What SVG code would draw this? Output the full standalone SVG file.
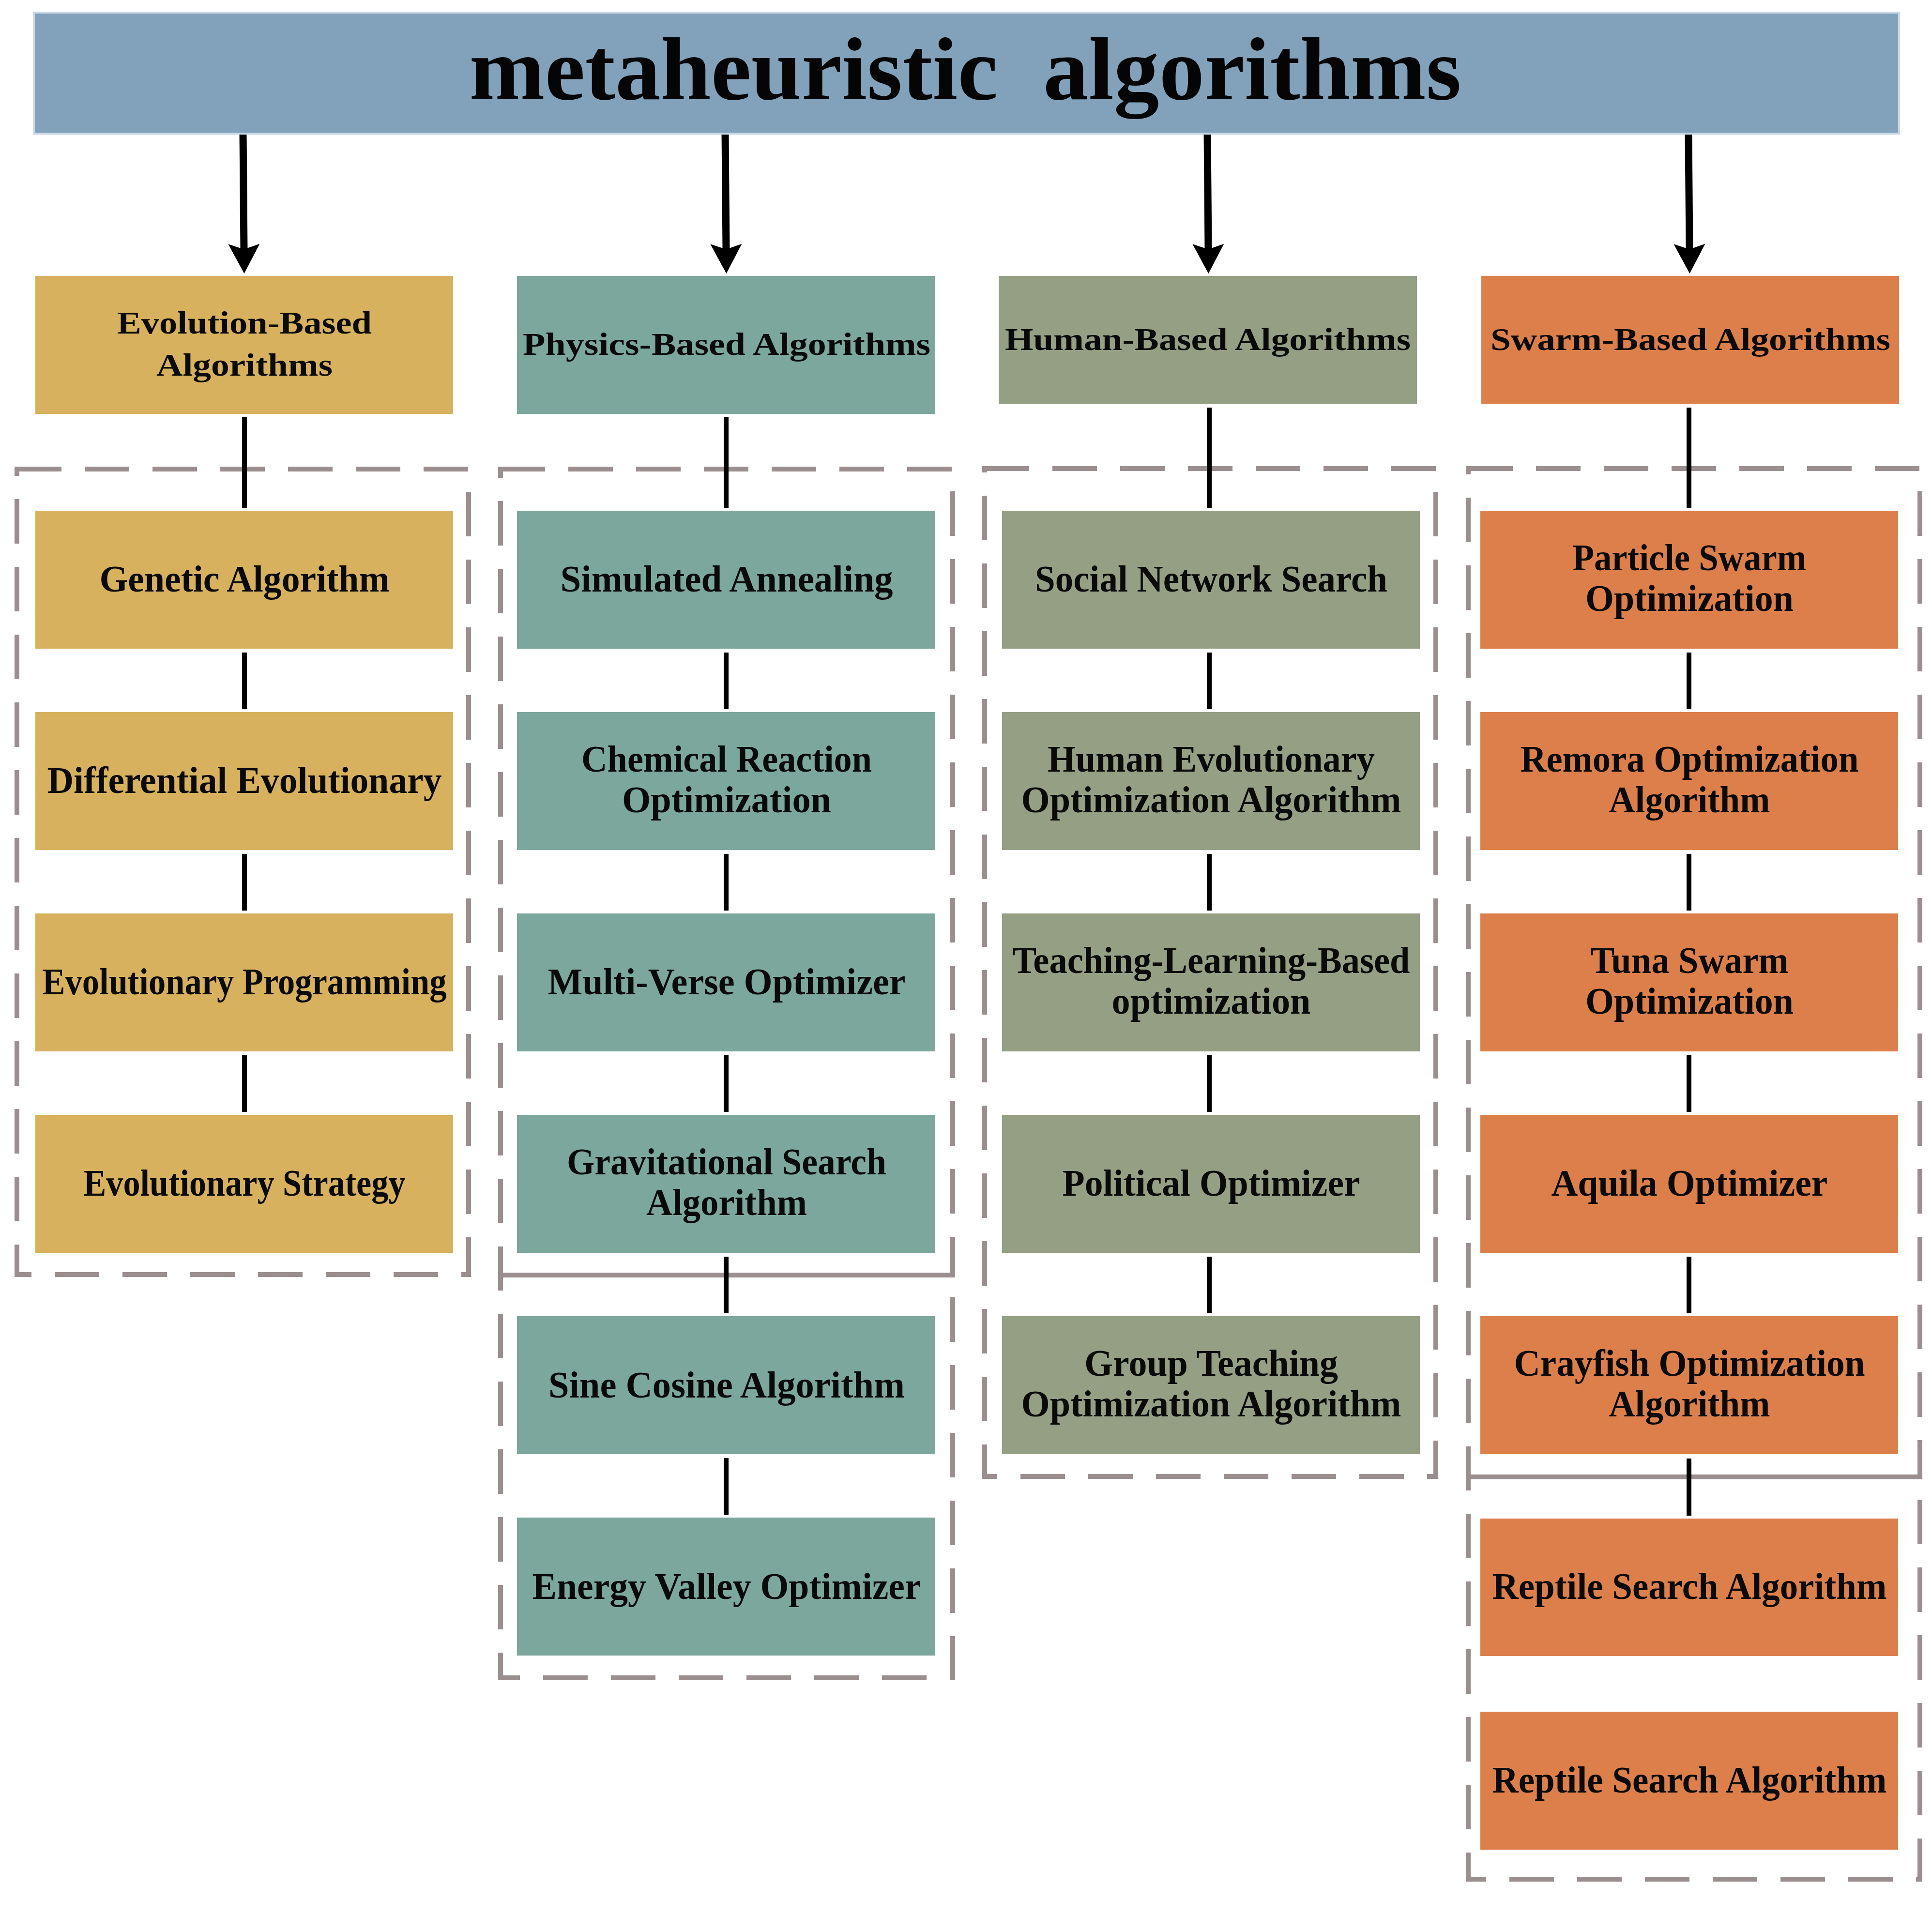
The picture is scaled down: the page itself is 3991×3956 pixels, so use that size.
<svg xmlns="http://www.w3.org/2000/svg" width="3991" height="3956" viewBox="0 0 3991 3956">
<style>
.evo{fill:#d7b15e}
.phy{fill:#7ba79c}
.hum{fill:#959f84}
.swa{fill:#dc7f4a}
.t{font-family:"Liberation Serif","Times New Roman",serif;font-weight:bold;font-size:78px;fill:#0a0a0a;text-anchor:middle}
.c{font-family:"Liberation Serif","Times New Roman",serif;font-weight:bold;font-size:66px;fill:#0a0a0a;text-anchor:middle}
.title{font-family:"Liberation Serif","Times New Roman",serif;font-weight:bold;font-size:185px;fill:#050505;text-anchor:middle;white-space:pre}
.dash{fill:none;stroke:#9a8e8e;stroke-width:10;stroke-dasharray:92 48}
.link{stroke:#000;stroke-width:10;fill:none}
.arrow{stroke:#000;stroke-width:15;fill:none;stroke-linecap:round;marker-end:url(#head)}
</style>
<defs>
<marker id="head" markerUnits="userSpaceOnUse" viewBox="0 -33 62 66" markerWidth="62" markerHeight="66" refX="11" refY="0" orient="auto">
<path d="M0,-32.5 L61,0 L0,32.5 L11,0 Z" fill="#000"/>
</marker>
</defs>
<rect width="3991" height="3956" fill="#fff"/>

<g id="containers">
<rect class="dash" x="35" y="969" width="933" height="1664"/>
<rect class="dash" x="1034" y="969" width="934" height="1665"/>
<rect class="dash" x="1034" y="2634" width="934" height="832"/>
<rect class="dash" x="2034" y="968" width="932" height="2082"/>
<rect class="dash" x="3033" y="968" width="933" height="2083"/>
<rect class="dash" x="3033" y="3051" width="933" height="831"/>
</g>

<g id="connectors">
<path class="arrow" d="M502,275 L504,515"/>
<path class="arrow" d="M1498,275 L1500,515"/>
<path class="arrow" d="M2494,275 L2496,515"/>
<path class="arrow" d="M3488,275 L3490,515"/>
<path class="link" d="M505,861V1049M505,1348V1465M505,1764V1881M505,2180V2297"/>
<path class="link" d="M1500,862V1049M1500,1348V1465M1500,1764V1881M1500,2180V2297M1500,2596V2713M1500,3012V3129"/>
<path class="link" d="M2498,842V1049M2498,1348V1465M2498,1764V1881M2498,2180V2297M2498,2596V2713"/>
<path class="link" d="M3489,842V1049M3489,1348V1465M3489,1764V1881M3489,2180V2297M3489,2596V2713M3489,3013V3131"/>
</g>

<g id="root">
<rect x="70" y="26" width="3853" height="250" fill="#82a1ba" stroke="#c9d8e8" stroke-width="4"/>
<text class="title" x="1994" y="205" textLength="2049" lengthAdjust="spacingAndGlyphs">metaheuristic  algorithms</text>
</g>

<g id="cat-evolution">
<rect class="evo" x="73" y="570" width="863" height="285"/>
<text class="c" x="505" y="689" textLength="526" lengthAdjust="spacingAndGlyphs">Evolution-Based</text>
<text class="c" x="505" y="776" textLength="364" lengthAdjust="spacingAndGlyphs">Algorithms</text>
</g>
<g id="node-ga">
<rect class="evo" x="73" y="1055" width="863" height="285"/>
<text class="t" x="505" y="1222" textLength="599" lengthAdjust="spacingAndGlyphs">Genetic Algorithm</text>
</g>
<g id="node-de">
<rect class="evo" x="73" y="1471" width="863" height="285"/>
<text class="t" x="505" y="1638" textLength="815" lengthAdjust="spacingAndGlyphs">Differential Evolutionary</text>
</g>
<g id="node-ep">
<rect class="evo" x="73" y="1887" width="863" height="285"/>
<text class="t" x="505" y="2054" textLength="835" lengthAdjust="spacingAndGlyphs">Evolutionary Programming</text>
</g>
<g id="node-es">
<rect class="evo" x="73" y="2303" width="863" height="285"/>
<text class="t" x="505" y="2470" textLength="665" lengthAdjust="spacingAndGlyphs">Evolutionary Strategy</text>
</g>

<g id="cat-physics">
<rect class="phy" x="1068" y="570" width="864" height="285"/>
<text class="c" x="1501" y="733" textLength="842" lengthAdjust="spacingAndGlyphs">Physics-Based Algorithms</text>
</g>
<g id="node-sa">
<rect class="phy" x="1068" y="1055" width="864" height="285"/>
<text class="t" x="1501" y="1222" textLength="687" lengthAdjust="spacingAndGlyphs">Simulated Annealing</text>
</g>
<g id="node-cro">
<rect class="phy" x="1068" y="1471" width="864" height="285"/>
<text class="t" x="1501" y="1594" textLength="600" lengthAdjust="spacingAndGlyphs">Chemical Reaction</text>
<text class="t" x="1501" y="1678" textLength="432" lengthAdjust="spacingAndGlyphs">Optimization</text>
</g>
<g id="node-mvo">
<rect class="phy" x="1068" y="1887" width="864" height="285"/>
<text class="t" x="1501" y="2054" textLength="739" lengthAdjust="spacingAndGlyphs">Multi-Verse Optimizer</text>
</g>
<g id="node-gsa">
<rect class="phy" x="1068" y="2303" width="864" height="285"/>
<text class="t" x="1501" y="2426" textLength="660" lengthAdjust="spacingAndGlyphs">Gravitational Search</text>
<text class="t" x="1501" y="2510" textLength="332" lengthAdjust="spacingAndGlyphs">Algorithm</text>
</g>
<g id="node-sca">
<rect class="phy" x="1068" y="2719" width="864" height="285"/>
<text class="t" x="1501" y="2887" textLength="736" lengthAdjust="spacingAndGlyphs">Sine Cosine Algorithm</text>
</g>
<g id="node-evo">
<rect class="phy" x="1068" y="3135" width="864" height="285"/>
<text class="t" x="1501" y="3303" textLength="803" lengthAdjust="spacingAndGlyphs">Energy Valley Optimizer</text>
</g>

<g id="cat-human">
<rect class="hum" x="2063" y="570" width="864" height="264"/>
<text class="c" x="2495" y="723" textLength="838" lengthAdjust="spacingAndGlyphs">Human-Based Algorithms</text>
</g>
<g id="node-sns">
<rect class="hum" x="2070" y="1055" width="863" height="285"/>
<text class="t" x="2502" y="1222" textLength="728" lengthAdjust="spacingAndGlyphs">Social Network Search</text>
</g>
<g id="node-heoa">
<rect class="hum" x="2070" y="1471" width="863" height="285"/>
<text class="t" x="2502" y="1594" textLength="676" lengthAdjust="spacingAndGlyphs">Human Evolutionary</text>
<text class="t" x="2502" y="1678" textLength="785" lengthAdjust="spacingAndGlyphs">Optimization Algorithm</text>
</g>
<g id="node-tlbo">
<rect class="hum" x="2070" y="1887" width="863" height="285"/>
<text class="t" x="2502" y="2010" textLength="821" lengthAdjust="spacingAndGlyphs">Teaching-Learning-Based</text>
<text class="t" x="2502" y="2094" textLength="411" lengthAdjust="spacingAndGlyphs">optimization</text>
</g>
<g id="node-po">
<rect class="hum" x="2070" y="2303" width="863" height="285"/>
<text class="t" x="2502" y="2470" textLength="615" lengthAdjust="spacingAndGlyphs">Political Optimizer</text>
</g>
<g id="node-gtoa">
<rect class="hum" x="2070" y="2719" width="863" height="285"/>
<text class="t" x="2502" y="2842" textLength="524" lengthAdjust="spacingAndGlyphs">Group Teaching</text>
<text class="t" x="2502" y="2926" textLength="785" lengthAdjust="spacingAndGlyphs">Optimization Algorithm</text>
</g>

<g id="cat-swarm">
<rect class="swa" x="3060" y="570" width="863" height="264"/>
<text class="c" x="3492" y="723" textLength="826" lengthAdjust="spacingAndGlyphs">Swarm-Based Algorithms</text>
</g>
<g id="node-pso">
<rect class="swa" x="3058" y="1055" width="863" height="285"/>
<text class="t" x="3490" y="1178" textLength="483" lengthAdjust="spacingAndGlyphs">Particle Swarm</text>
<text class="t" x="3490" y="1262" textLength="430" lengthAdjust="spacingAndGlyphs">Optimization</text>
</g>
<g id="node-roa">
<rect class="swa" x="3058" y="1471" width="863" height="285"/>
<text class="t" x="3490" y="1594" textLength="699" lengthAdjust="spacingAndGlyphs">Remora Optimization</text>
<text class="t" x="3490" y="1678" textLength="333" lengthAdjust="spacingAndGlyphs">Algorithm</text>
</g>
<g id="node-tso">
<rect class="swa" x="3058" y="1887" width="863" height="285"/>
<text class="t" x="3490" y="2010" textLength="409" lengthAdjust="spacingAndGlyphs">Tuna Swarm</text>
<text class="t" x="3490" y="2094" textLength="430" lengthAdjust="spacingAndGlyphs">Optimization</text>
</g>
<g id="node-ao">
<rect class="swa" x="3058" y="2303" width="863" height="285"/>
<text class="t" x="3490" y="2470" textLength="571" lengthAdjust="spacingAndGlyphs">Aquila Optimizer</text>
</g>
<g id="node-coa">
<rect class="swa" x="3058" y="2719" width="863" height="285"/>
<text class="t" x="3490" y="2842" textLength="725" lengthAdjust="spacingAndGlyphs">Crayfish Optimization</text>
<text class="t" x="3490" y="2926" textLength="333" lengthAdjust="spacingAndGlyphs">Algorithm</text>
</g>
<g id="node-rsa1">
<rect class="swa" x="3058" y="3137" width="863" height="284"/>
<text class="t" x="3490" y="3303" textLength="815" lengthAdjust="spacingAndGlyphs">Reptile Search Algorithm</text>
</g>
<g id="node-rsa2">
<rect class="swa" x="3058" y="3536" width="863" height="285"/>
<text class="t" x="3490" y="3703" textLength="815" lengthAdjust="spacingAndGlyphs">Reptile Search Algorithm</text>
</g>
</svg>
